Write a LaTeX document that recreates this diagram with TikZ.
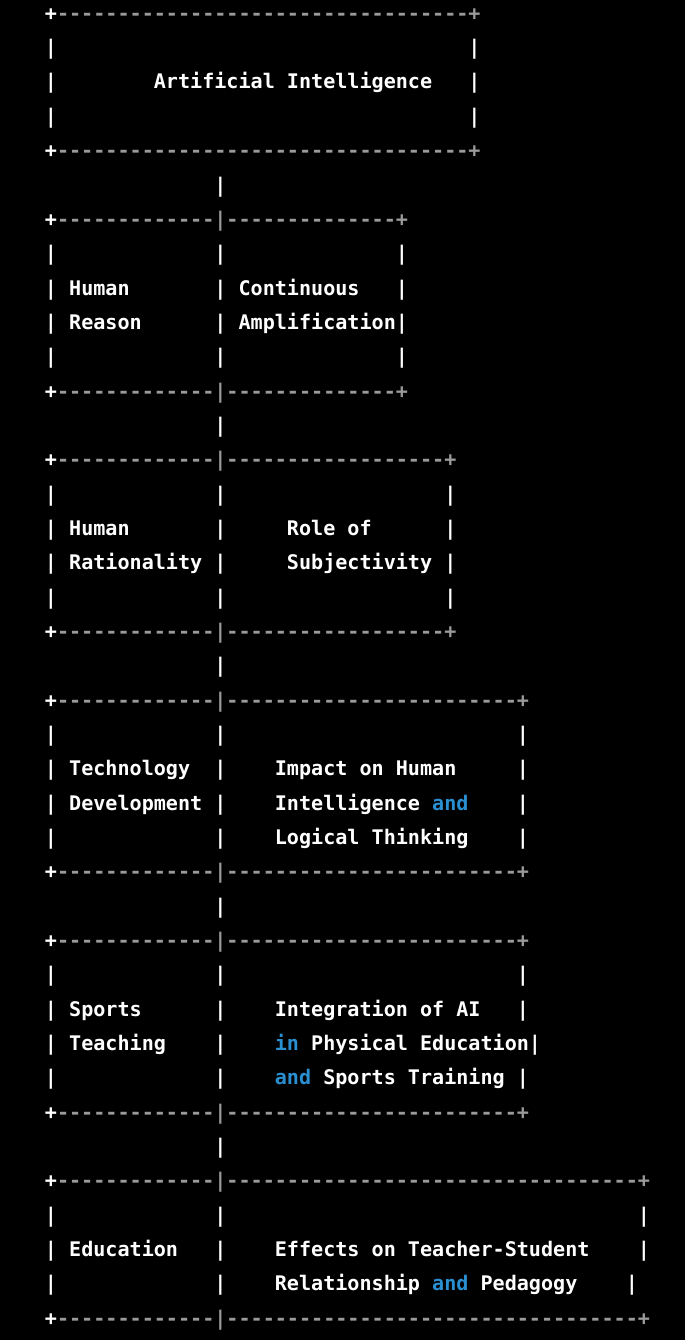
\documentclass[tikz,border=0pt]{standalone}
\usepackage{fontspec}
\setmonofont{DejaVu Sans Mono}

\definecolor{kw}{HTML}{2A8FD0}
\definecolor{rulegray}{HTML}{9A9A9A}
\newcommand{\kw}[1]{\textcolor{kw}{#1}}

\begin{document}
\begin{tikzpicture}[x=6.05pt,y=-17.17pt,
                    every node/.style={inner sep=0pt,outer sep=0pt,anchor=mid west,
                      text=white,font=\ttfamily\bfseries\fontsize{10.05pt}{12pt}\selectfont}]
  \tikzstyle{rulechar}=[text=rulegray]

  \fill[black] (-22.475pt,8pt) rectangle (320.025pt,-662pt);

  % dashed rows: row / middle column / last column
  \foreach \r/\m/\e in {0/0/35,4/0/35,6/14/29,11/14/29,13/14/33,18/14/33,
                        20/14/39,25/14/39,27/14/39,32/14/39,34/14/49,38/14/49}{
    \pgfmathtruncatemacro\last{\e-1}
    \node (p-\r) at (0,\r) {+};
    \foreach \c in {1,...,\last}{
      \ifnum\c=\m \node[rulechar] (d-\r-\c) at (\c,\r) {|};
      \else \node[rulechar] (d-\r-\c) at (\c,\r) {-};
      \fi
    }
    \node[rulechar] (q-\r) at (\e,\r) {+};
  }

  % box sides: row / right column
  \foreach \r/\e in {1/35,2/35,3/35,7/29,8/29,9/29,10/29,14/33,15/33,16/33,17/33,
                     21/39,22/39,23/39,24/39,28/39,29/39,30/40,31/39,
                     35/49,36/49,37/48}{
    \node (l-\r) at (0,\r) {|};
    \node (r-\r) at (\e,\r) {|};
  }

  % middle column and links between boxes
  \foreach \r in {5,7,8,9,10,12,14,15,16,17,19,21,22,23,24,26,28,29,30,31,33,35,36,37}
    \node (c-\r) at (14,\r) {|};

  \node (ai)      at (9,2)   {Artificial Intelligence};

  \node (reason1) at (2,8)   {Human};
  \node (reason2) at (2,9)   {Reason};
  \node (ampl1)   at (16,8)  {Continuous};
  \node (ampl2)   at (16,9)  {Amplification};

  \node (ratio1)  at (2,15)  {Human};
  \node (ratio2)  at (2,16)  {Rationality};
  \node (subj1)   at (20,15) {Role of};
  \node (subj2)   at (20,16) {Subjectivity};

  \node (tech1)   at (2,22)  {Technology};
  \node (tech2)   at (2,23)  {Development};
  \node (impact1) at (19,22) {Impact on Human};
  \node (impact2) at (19,23) {Intelligence \kw{and}};
  \node (impact3) at (19,24) {Logical Thinking};

  \node (sport1)  at (2,29)  {Sports};
  \node (sport2)  at (2,30)  {Teaching};
  \node (integ1)  at (19,29) {Integration of AI};
  \node (integ2)  at (19,30) {\kw{in} Physical Education};
  \node (integ3)  at (19,31) {\kw{and} Sports Training};

  \node (edu)     at (2,36)  {Education};
  \node (effect1) at (19,36) {Effects on Teacher-Student};
  \node (effect2) at (19,37) {Relationship \kw{and} Pedagogy};
\end{tikzpicture}
\end{document}
